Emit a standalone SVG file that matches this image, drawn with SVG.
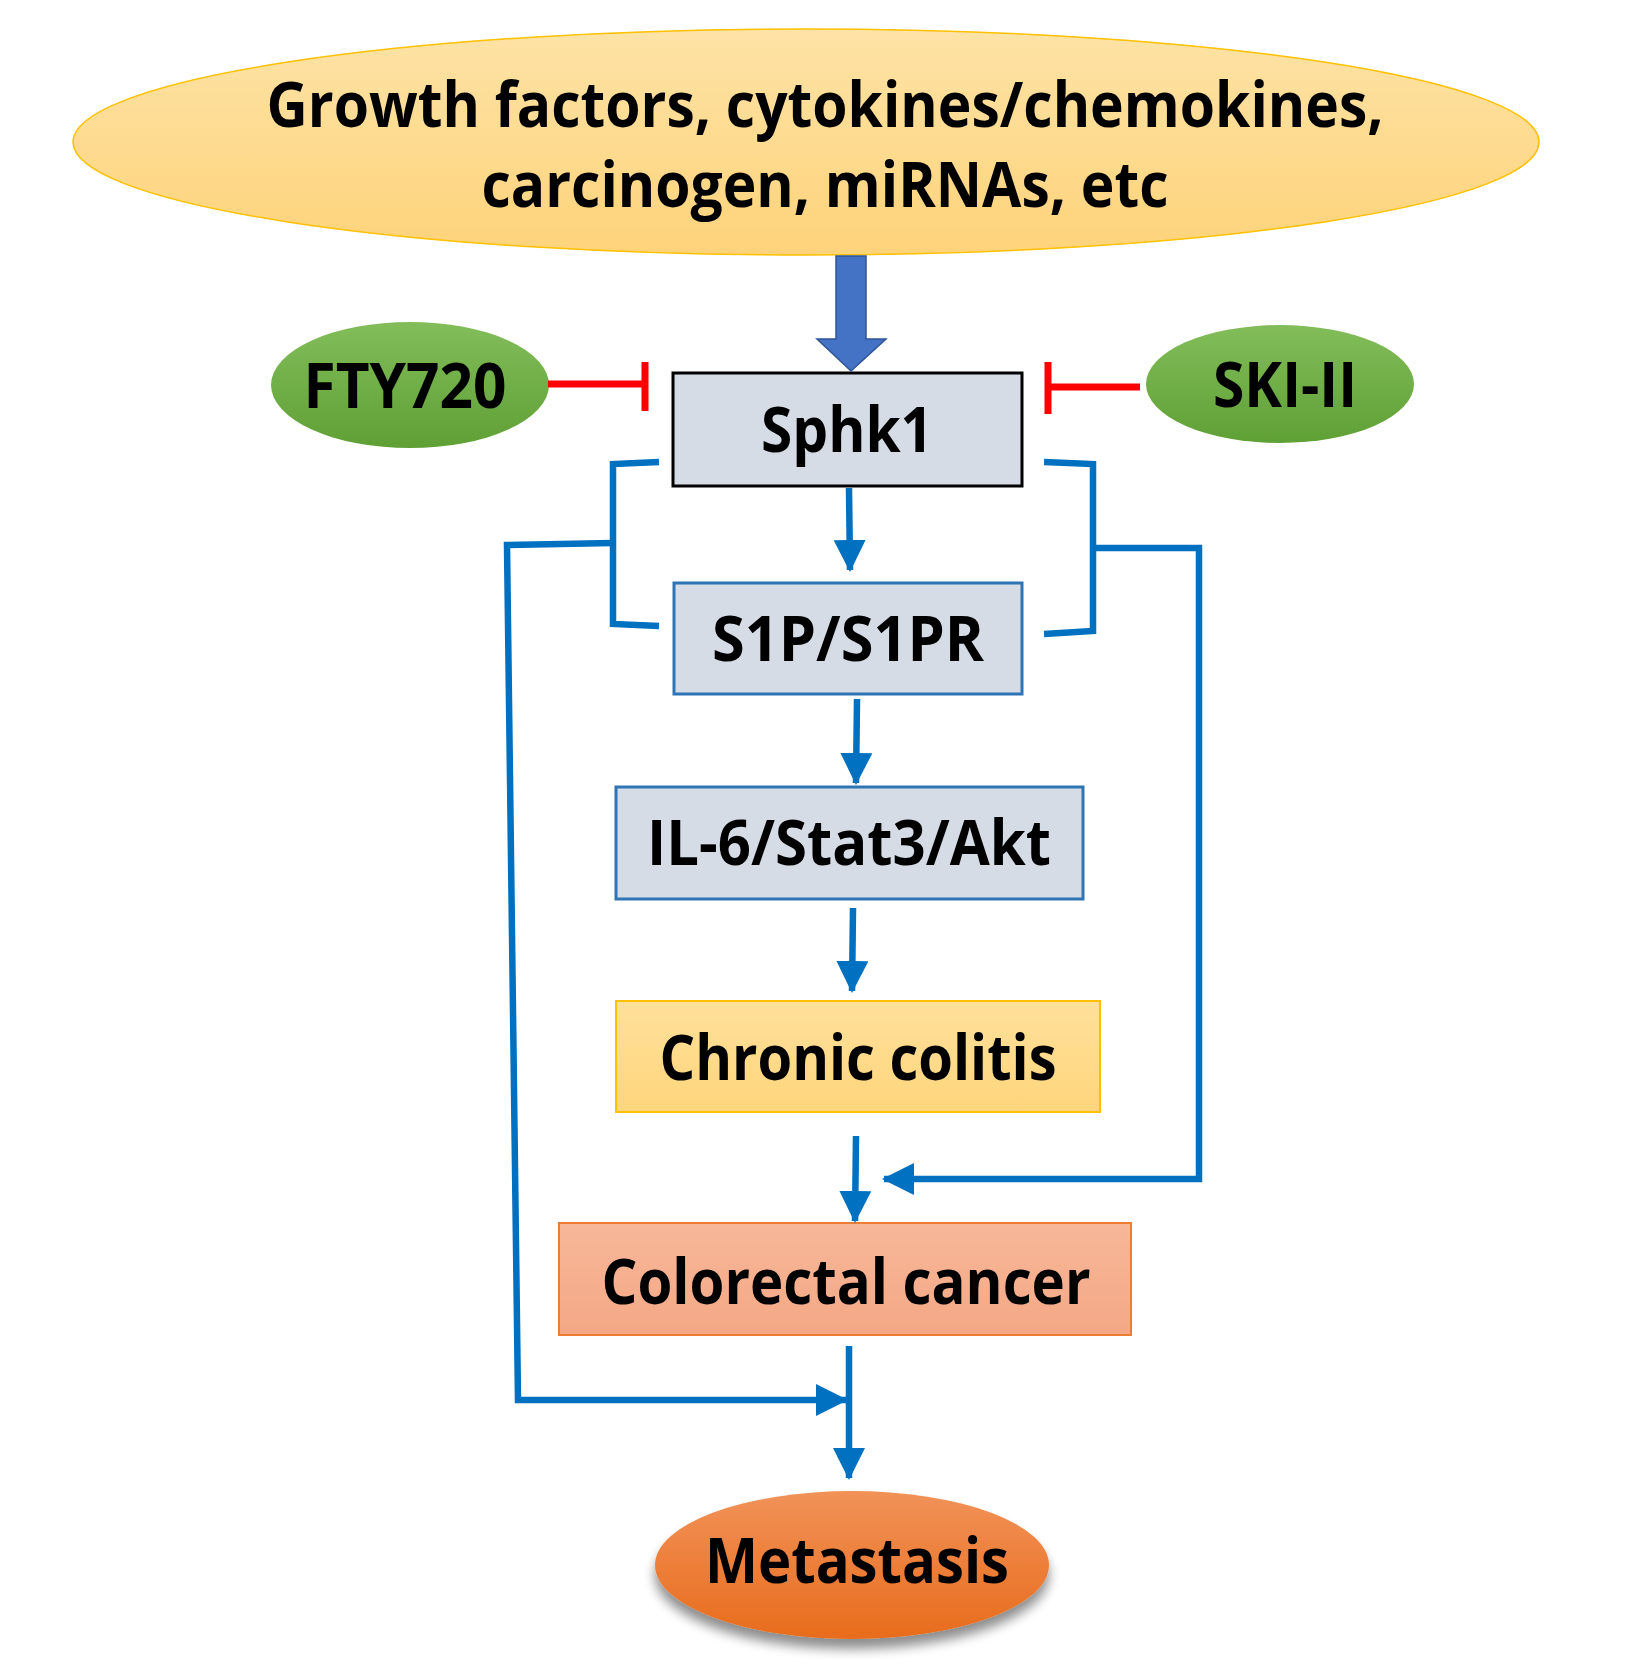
<svg xmlns="http://www.w3.org/2000/svg" width="1628" height="1680" viewBox="0 0 1628 1680">
<defs>
<linearGradient id="gTop" x1="0" y1="0" x2="0" y2="1"><stop offset="0" stop-color="#fde3a6"/><stop offset="1" stop-color="#fed37a"/></linearGradient>
<linearGradient id="gGreen" x1="0" y1="0" x2="0" y2="1"><stop offset="0" stop-color="#82bd5a"/><stop offset="1" stop-color="#5fa035"/></linearGradient>
<linearGradient id="gYel" x1="0" y1="0" x2="0" y2="1"><stop offset="0" stop-color="#ffe09a"/><stop offset="1" stop-color="#ffd57c"/></linearGradient>
<linearGradient id="gSal" x1="0" y1="0" x2="0" y2="1"><stop offset="0" stop-color="#f7b799"/><stop offset="1" stop-color="#f4a885"/></linearGradient>
<linearGradient id="gOr" x1="0" y1="0" x2="0" y2="1"><stop offset="0" stop-color="#f19258"/><stop offset="1" stop-color="#e86c1c"/></linearGradient>
<filter id="sh" x="-20%" y="-20%" width="140%" height="150%"><feGaussianBlur in="SourceAlpha" stdDeviation="6"/><feOffset dx="0" dy="10"/><feComponentTransfer><feFuncA type="linear" slope="0.45"/></feComponentTransfer><feMerge><feMergeNode/><feMergeNode in="SourceGraphic"/></feMerge></filter>
<marker id="ah" markerUnits="userSpaceOnUse" markerWidth="36" markerHeight="36" refX="30" refY="16" orient="auto"><path d="M0,0 L32,16 L0,32 Z" fill="#0070c0"/></marker>
</defs>
<style>
text{font-family:"Open Sans","Noto Sans","Liberation Sans",sans-serif;font-weight:bold;fill:#000;text-anchor:middle}
.t{font-size:62px}
.b{stroke-width:3}
.c{fill:none;stroke:#0070c0;stroke-width:6.5}
.r{fill:none;stroke:#ff0000;stroke-width:7}
</style>
<g id="top"><ellipse cx="806" cy="142" rx="733" ry="113" fill="url(#gTop)" stroke="#ffc000" stroke-width="1.5"/>
<text class="t" x="825" y="127" textLength="1117" lengthAdjust="spacingAndGlyphs">Growth factors, cytokines/chemokines,</text>
<text class="t" x="825" y="207" textLength="687" lengthAdjust="spacingAndGlyphs">carcinogen, miRNAs, etc</text></g>
<g id="fty720"><ellipse cx="410" cy="385" rx="139" ry="63" fill="url(#gGreen)"/><text class="t" x="405" y="408" textLength="203" lengthAdjust="spacingAndGlyphs">FTY720</text></g>
<g id="skiii"><ellipse cx="1280" cy="384" rx="134" ry="59" fill="url(#gGreen)"/><text class="t" x="1285" y="407" textLength="144" lengthAdjust="spacingAndGlyphs">SKI-II</text></g>
<g id="sphk1"><rect x="673" y="373" width="349" height="113" fill="#d6dce5" stroke="#000" class="b"/><text class="t" x="847" y="452" textLength="172" lengthAdjust="spacingAndGlyphs">Sphk1</text></g>
<g id="s1p"><rect x="674" y="583" width="348" height="111" fill="#d6dce5" stroke="#2e75b6" class="b"/><text class="t" x="848" y="661" textLength="272" lengthAdjust="spacingAndGlyphs">S1P/S1PR</text></g>
<g id="il6"><rect x="616" y="787" width="467" height="112" fill="#d6dce5" stroke="#2e75b6" class="b"/><text class="t" x="849" y="865" textLength="404" lengthAdjust="spacingAndGlyphs">IL-6/Stat3/Akt</text></g>
<g id="colitis"><rect x="616" y="1001" width="484" height="111" fill="url(#gYel)" stroke="#ffc000" stroke-width="2"/><text class="t" x="858" y="1080" textLength="397" lengthAdjust="spacingAndGlyphs">Chronic colitis</text></g>
<g id="crc"><rect x="559" y="1223" width="572" height="112" fill="url(#gSal)" stroke="#ed7d31" stroke-width="2"/><text class="t" x="846" y="1304" textLength="489" lengthAdjust="spacingAndGlyphs">Colorectal cancer</text></g>
<g id="metastasis"><ellipse cx="852" cy="1565" rx="197" ry="74" fill="url(#gOr)" filter="url(#sh)"/><text class="t" x="857" y="1583" textLength="304" lengthAdjust="spacingAndGlyphs">Metastasis</text></g>
<g id="connectors">
<path d="M836,256 H866 V339 H886 L851,371 L817,339 H836 Z" fill="#4472c4" stroke="#2f5597" stroke-width="1.5"/>
<path class="r" d="M548,384 H645 M645,362 V411"/>
<path class="r" d="M1140,387 H1048 M1048,362 V414"/>
<path class="c" d="M849,488 L850,570" marker-end="url(#ah)"/>
<path class="c" d="M857,699 L856,783" marker-end="url(#ah)"/>
<path class="c" d="M853,908 L852,991" marker-end="url(#ah)"/>
<path class="c" d="M856,1136 L855,1221" marker-end="url(#ah)"/>
<path class="c" d="M849,1346 L849,1478" marker-end="url(#ah)"/>
<path class="c" d="M1044,462 L1093,464 L1093,631 L1044,634"/>
<path class="c" d="M1093,548 H1199 V1179 H884" marker-end="url(#ah)"/>
<path class="c" d="M659,462 L613,464 L613,624 L659,626"/>
<path class="c" d="M613,543 L507,545 L518,1400 H846" marker-end="url(#ah)"/>
</g>
</svg>
